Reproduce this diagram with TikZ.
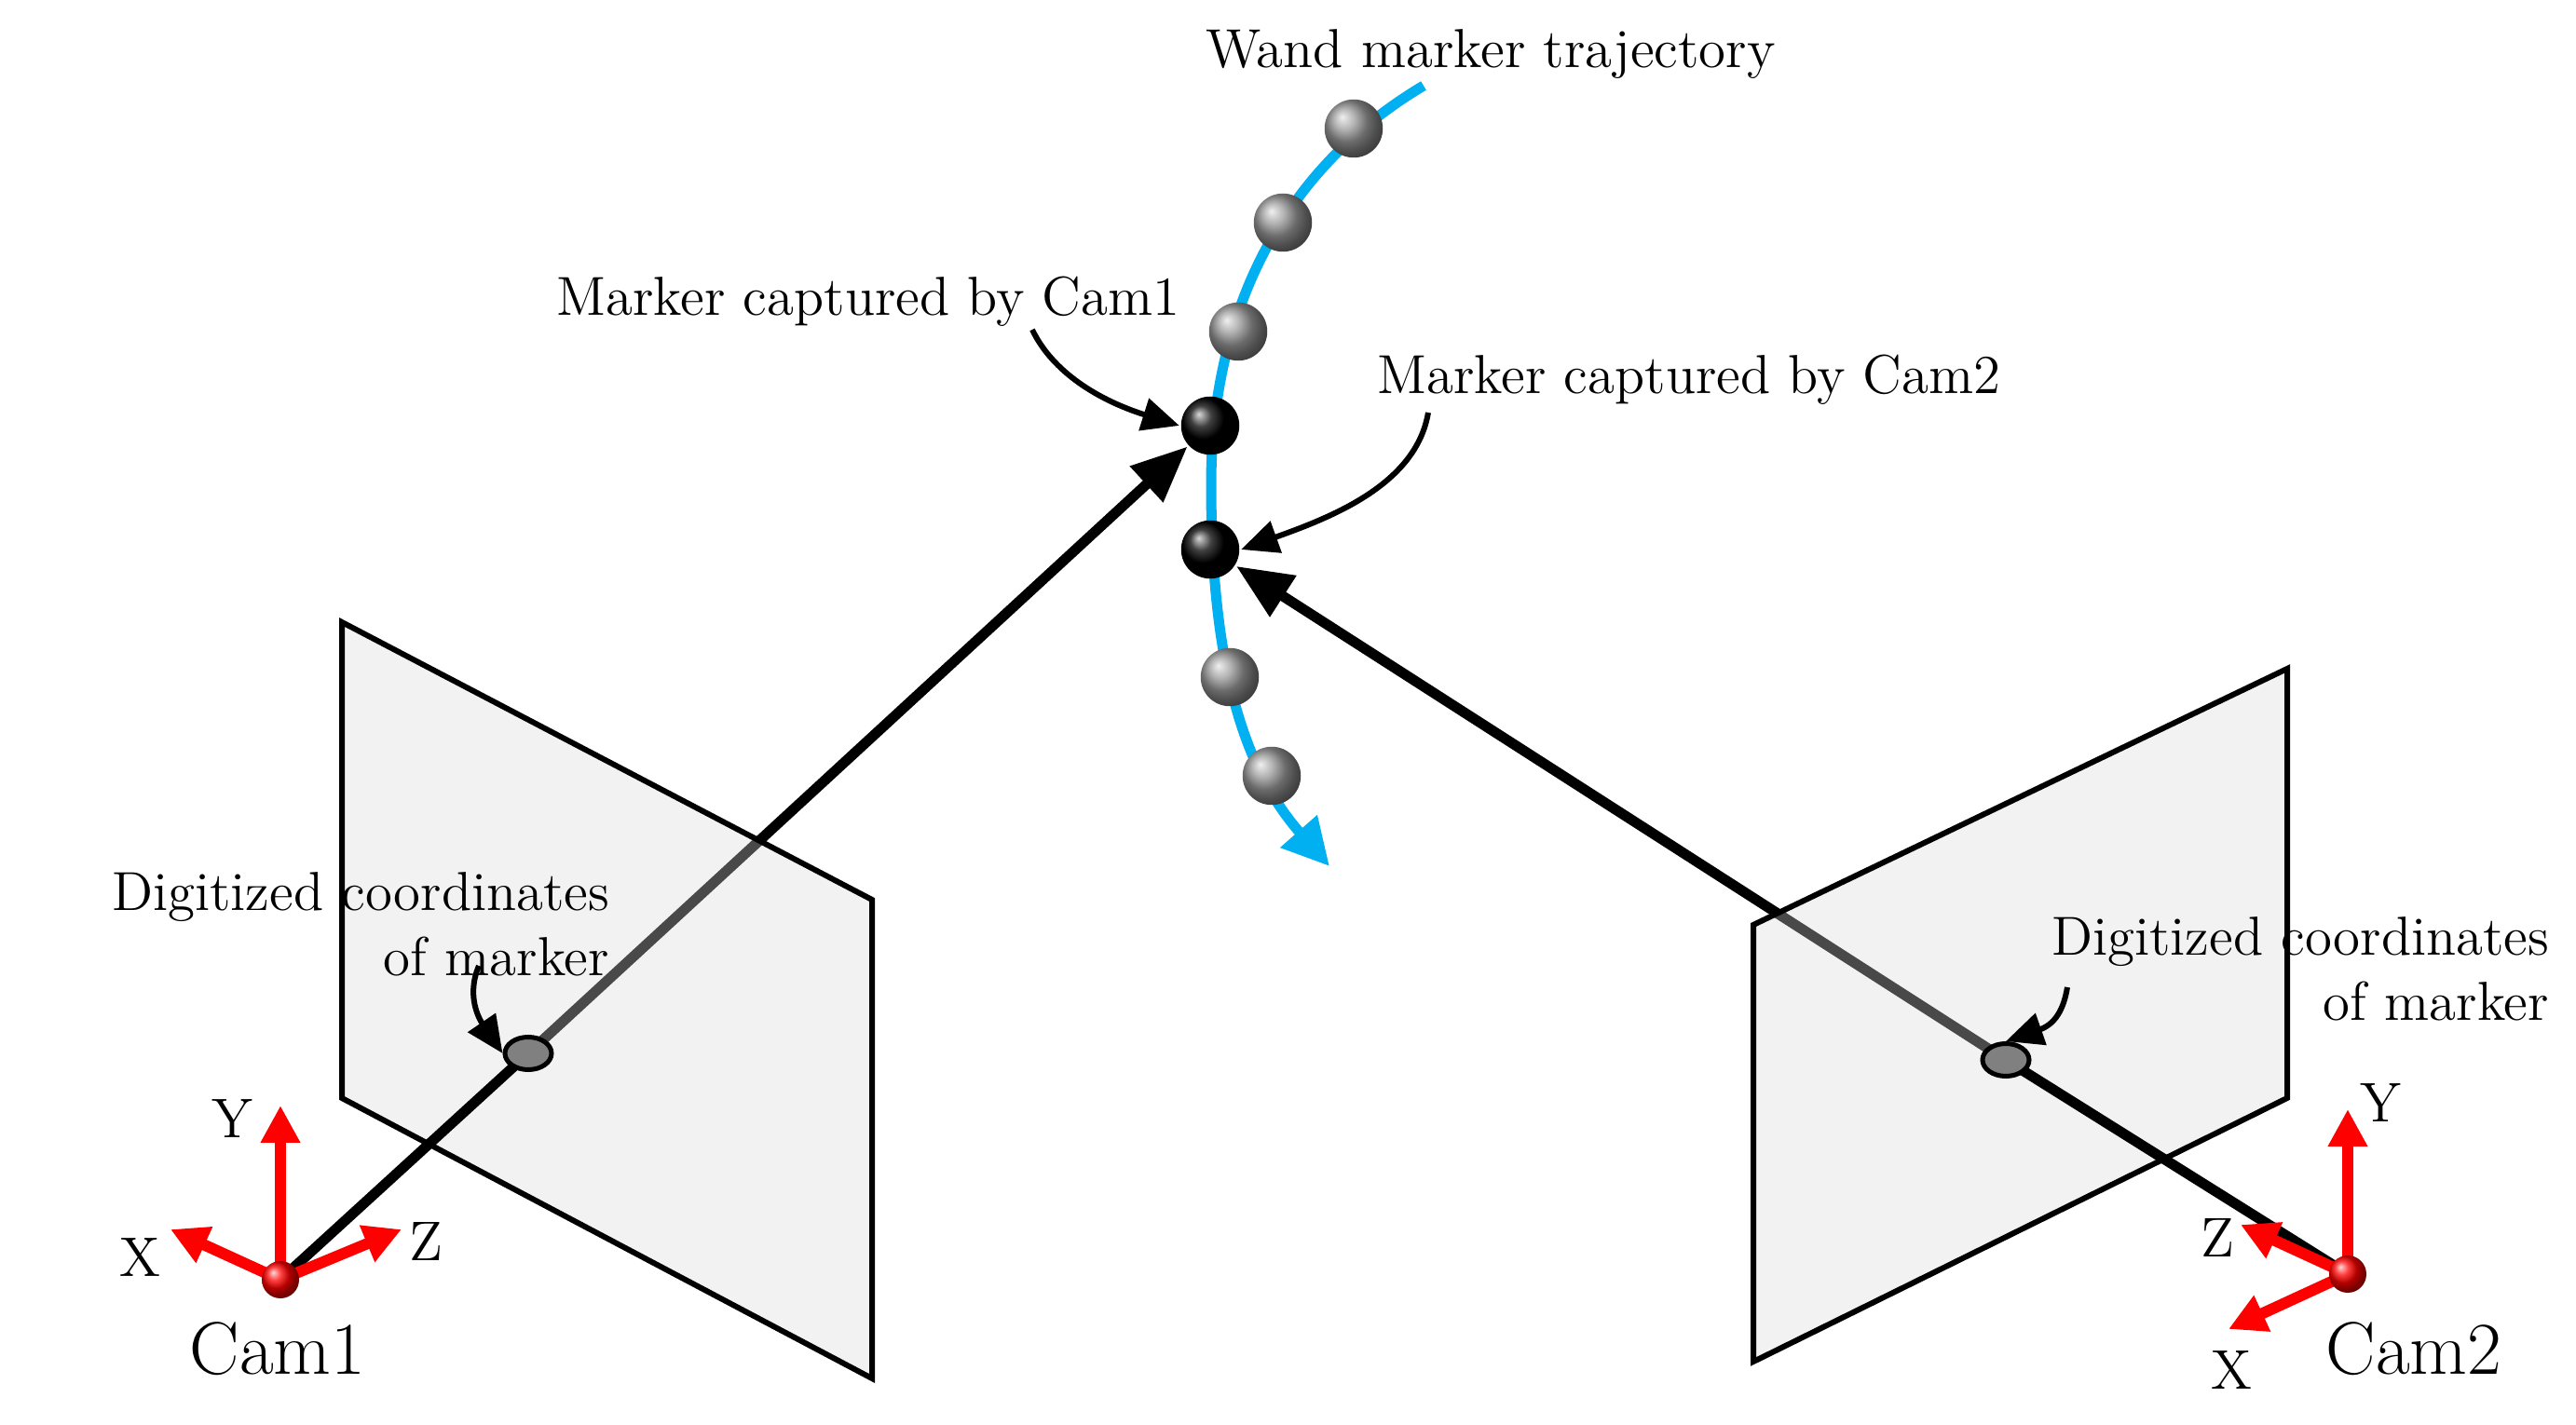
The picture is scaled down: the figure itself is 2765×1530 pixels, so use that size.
\documentclass[tikz,border=0pt]{standalone}
\usetikzlibrary{arrows.meta,shadings,shapes.geometric}
\tikzset{every picture/.style={line width=0.75pt}}
\definecolor{planegray}{RGB}{242,242,242}
\tikzset{
  plane/.style={draw=black,line width=1.2pt,fill=planegray,fill opacity=0.3},
  planebg/.style={fill=planegray},
  ray/.style={line width=2.2pt,-{Triangle[length=12pt,width=10pt]}},
  note/.style={line width=1.2pt,-{Triangle[length=8pt,width=7pt]}},
  axis/.style={red,line width=2.4pt,-{Triangle[length=8pt,width=8pt]}},
  lbl/.style={font=\fontsize{11.8}{14}\selectfont,align=right,inner sep=0pt},
  gball/.style={circle,minimum size=12.5pt,inner sep=0pt,ball color=gray!80},
  bball/.style={circle,minimum size=12.5pt,inner sep=0pt,ball color=black},
  origin/.style={circle,inner sep=0pt,minimum size=8pt,ball color=red},
}
\begin{document}
\begin{tikzpicture}[x=0.2pt,y=0.2pt,yscale=-1,xscale=1]
\useasboundingbox (0,0) rectangle (2765,1530);

%Trajectory
\draw [color={rgb,255:red,0;green,176;blue,240},line width=2.2pt,-{Triangle[length=10pt,width=10pt]}]
  (1528,92) .. controls (1380,180) and (1300,330) .. (1300,520) .. controls (1300,700) and (1330,820) .. (1427,930);
\node [gball] (b1) at (1453,138) {};
\node [gball] (b2) at (1377,239) {};
\node [gball] (b3) at (1329,356) {};
\node [bball] (m1) at (1299,457) {};
\node [bball] (m2) at (1299,590) {};
\node [gball] (b4) at (1320,727) {};
\node [gball] (b5) at (1365,833) {};

%Cameras
\coordinate (c1) at (301,1374);
\coordinate (c2) at (2520,1368);
\coordinate (p1) at (567,1131);
\coordinate (p2) at (2153,1138);

%Plane backs
\fill [planebg] (367,668) -- (367,1179) -- (936,1480) -- (936,966) -- cycle;
\fill [planebg] (1882,993) -- (1882,1462) -- (2455,1179) -- (2455,718) -- cycle;

%Rays behind the planes
\draw [ray] (p1) -- (m1);
\draw [ray] (p2) -- (m2);

%Planes
\draw [plane] (367,668) -- (367,1179) -- (936,1480) -- (936,966) -- cycle;
\draw [plane] (1882,993) -- (1882,1462) -- (2455,1179) -- (2455,718) -- cycle;

%Rays in front
\draw [line width=2.2pt] (c1) -- (p1);
\draw [line width=2.2pt] (c2) -- (p2);
\node [ellipse,draw=black,line width=1pt,fill=gray,minimum width=10pt,minimum height=7pt,inner sep=0pt] (i1) at (p1) {};
\node [ellipse,draw=black,line width=1pt,fill=gray,minimum width=10pt,minimum height=7pt,inner sep=0pt] (i2) at (p2) {};

%Axes
\draw [axis] (c1) -- (301,1187);
\draw [axis] (c1) -- (183,1320);
\draw [axis] (c1) -- (431,1320);
\draw [axis] (c2) -- (2520,1191);
\draw [axis] (c2) -- (2405,1315);
\draw [axis] (c2) -- (2392,1427);
\node [origin] (c1d) at (c1) {};
\node [origin] (c2d) at (c2) {};
\node [font=\fontsize{12}{14}\selectfont] (y1) at (250,1201) {Y};
\node [font=\fontsize{12}{14}\selectfont] (x1) at (151,1350) {X};
\node [font=\fontsize{12}{14}\selectfont] (z1) at (457,1333) {Z};
\node [font=\fontsize{12}{14}\selectfont] (y2) at (2556,1184) {Y};
\node [font=\fontsize{12}{14}\selectfont] (z2) at (2380,1329) {Z};
\node [font=\fontsize{12}{14}\selectfont] (x2) at (2396,1471) {X};
\node [font=\fontsize{16}{18}\selectfont] (cam1) at (298,1448) {Cam1};
\node [font=\fontsize{16}{18}\selectfont] (cam2) at (2591,1448) {Cam2};

% Text Nodes
\node [lbl] (traj) at (1600,58) {Wand marker trajectory};
\node [lbl] (cap1) at (932,324) {Marker captured by Cam1};
\node [lbl] (cap2) at (1813,408) {Marker captured by Cam2};
\node [lbl,anchor=north east] (dig1) at (656,935) {Digitized coordinates\\of marker};
\node [lbl,anchor=north east] (dig2) at (2738,983) {Digitized coordinates\\of marker};

%Notes
\coordinate (n1) at (1108,354);
\coordinate (n2) at (1533,443);
\coordinate (n3) at (514,1037);
\coordinate (n4) at (2219,1060);
\draw [note] (n1) .. controls (1130,400) and (1180,430) .. (m1.west);
\draw [note] (n2) .. controls (1520,520) and (1430,555) .. (m2.east);
\draw [note] (n3) .. controls (500,1070) and (515,1095) .. (i1.west);
\draw [note] (n4) .. controls (2215,1085) and (2205,1100) .. (i2.north);
\end{tikzpicture}
\end{document}
